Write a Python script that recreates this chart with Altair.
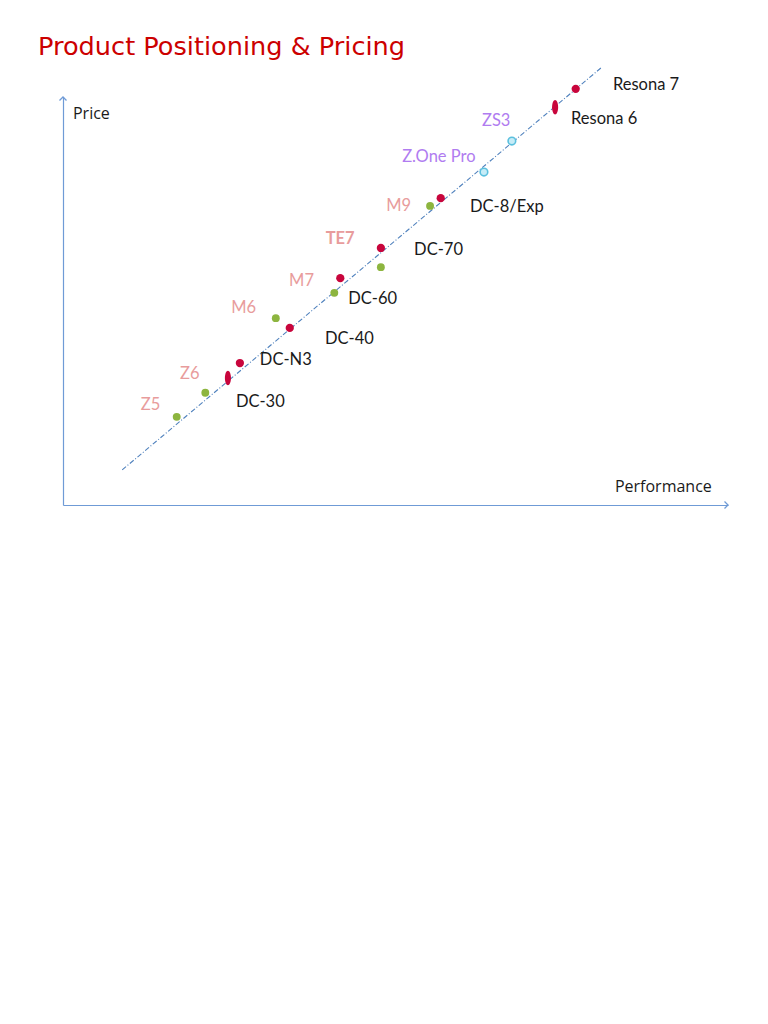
import altair as alt
import pandas as pd

# ---------------- data ----------------
chart_title = "Product Positioning & Pricing"

products = ["Resona 7", "Resona 6", "ZS3", "Z.One Pro", "DC-8/Exp", "M9", "DC-70", "TE7",
            "DC-60", "M7", "M6", "DC-40", "DC-N3", "DC-30", "Z6", "Z5"]
performance = [77.1, 74.0, 67.5, 63.3, 56.8, 55.2, 47.8, 47.8,
               41.7, 40.8, 32.0, 34.1, 26.6, 24.8, 21.4, 17.1]
price = [102.0, 97.5, 89.2, 81.6, 75.2, 73.3, 63.0, 58.3,
         55.6, 52.0, 45.8, 43.4, 34.8, 31.1, 27.5, 21.6]
family = ["cart", "cart_tall", "zonare", "zonare", "cart", "portable", "cart", "portable",
          "cart", "portable", "portable", "cart", "cart", "cart_tall", "portable", "portable"]

label_text = ["Resona 7", "Resona 6", "ZS3", "Z.One Pro", "M9", "DC-8/Exp", "TE7", "DC-70",
              "M7", "DC-60", "M6", "DC-40", "DC-N3", "Z6", "DC-30", "Z5"]
label_perf = [82.7, 76.4, 63.0, 51.0, 48.6, 61.2, 39.5, 52.8,
              34.0, 42.9, 25.3, 39.4, 29.6, 17.6, 26.0, 11.7]
label_price = [103.2, 94.9, 94.4, 85.5, 73.5, 73.3, 65.4, 62.7,
               55.1, 50.7, 48.5, 40.9, 35.8, 32.4, 25.5, 24.8]
label_group = ["dark", "dark", "zonare", "zonare", "portable", "dark", "portable", "dark",
               "portable", "dark", "portable", "dark", "dark", "portable", "dark", "portable"]
label_weight = ["normal"] * 6 + ["bold"] + ["normal"] * 9

axis_title_text = ["Price", "Performance"]
axis_title_perf = [1.5, 83.0]
axis_title_price = [96.1, 4.7]

trend_perf = [8.9, 81.1]
trend_price = [8.6, 107.4]

arrow_perf = [100, 0]
arrow_price = [0, 100]
arrow_dir = ["right", "up"]

# ---------------- tables ----------------
pts = pd.DataFrame({"product": products, "perf": performance, "price": price, "family": family})
labels = pd.DataFrame({"text": label_text, "perf": label_perf, "price": label_price,
                       "group": label_group, "weight": label_weight})
axis_titles = pd.DataFrame({"text": axis_title_text, "perf": axis_title_perf, "price": axis_title_price})
trend = pd.DataFrame({"perf": trend_perf, "price": trend_price})
arrows = pd.DataFrame({"perf": arrow_perf, "price": arrow_price, "dir": arrow_dir})

AXIS_COLOR = "#6f9bd6"


def X():
    return alt.X("perf:Q", scale=alt.Scale(domain=[0, 100], nice=False, zero=False),
                 axis=alt.Axis(domain=True, domainColor=AXIS_COLOR, domainWidth=1.2,
                               ticks=False, labels=False, grid=False), title=None)


def Y():
    return alt.Y("price:Q", scale=alt.Scale(domain=[0, 100], nice=False, zero=False),
                 axis=alt.Axis(domain=True, domainColor=AXIS_COLOR, domainWidth=1.2,
                               ticks=False, labels=False, grid=False), title=None)


ellipse_path = "M 0 -1 A 0.42 1 0 1 1 0 1 A 0.42 1 0 1 1 0 -1 Z"
chev_right = "M -1 -1 L 0 0 L -1 1"
chev_up = "M -1 1 L 0 0 L 1 1"

trend_line = alt.Chart(trend).mark_line(color="#4f81bd", strokeWidth=1.1,
                                        strokeDash=[5, 2, 1, 2]).encode(x=X(), y=Y())

arrow_r = alt.Chart(arrows).transform_filter("datum.dir == 'right'").mark_point(
    shape=chev_right, filled=False, color=AXIS_COLOR, strokeWidth=1.3, size=49, opacity=1
).encode(x=X(), y=Y())
arrow_u = alt.Chart(arrows).transform_filter("datum.dir == 'up'").mark_point(
    shape=chev_up, filled=False, color=AXIS_COLOR, strokeWidth=1.3, size=49, opacity=1
).encode(x=X(), y=Y())

red = alt.Chart(pts).transform_filter("datum.family == 'cart'").mark_point(
    shape="circle", filled=True, color="#c8053c", size=68, opacity=1
).encode(x=X(), y=Y())
red_tall = alt.Chart(pts).transform_filter("datum.family == 'cart_tall'").mark_point(
    shape=ellipse_path, filled=True, color="#c8053c", size=210, opacity=1
).encode(x=X(), y=Y())
green = alt.Chart(pts).transform_filter("datum.family == 'portable'").mark_point(
    shape="circle", filled=True, color="#8db53f", size=62, opacity=1
).encode(x=X(), y=Y())
blue = alt.Chart(pts).transform_filter("datum.family == 'zonare'").mark_point(
    shape="circle", filled=True, fill="#c6ecf7", stroke="#5bc0de", strokeWidth=1.6,
    size=58, opacity=1
).encode(x=X(), y=Y())

label_color = alt.Color("group:N", scale=alt.Scale(domain=["dark", "portable", "zonare"],
                                                   range=["#1a1a1a", "#e89c9c", "#b07cf0"]),
                        legend=None)
lab_normal = alt.Chart(labels).transform_filter("datum.weight == 'normal'").mark_text(
    align="left", baseline="middle", font="Lato", fontSize=16.5, dy=1
).encode(x=X(), y=Y(), text="text:N", color=label_color)
lab_bold = alt.Chart(labels).transform_filter("datum.weight == 'bold'").mark_text(
    align="left", baseline="middle", font="Lato", fontSize=16.5, fontWeight="bold", dy=1
).encode(x=X(), y=Y(), text="text:N", color=label_color)

ax_titles = alt.Chart(axis_titles).mark_text(
    align="left", baseline="middle", font="Open Sans", fontSize=16, color="#1a1a1a", dy=1
).encode(x=X(), y=Y(), text="text:N")

title_mark = alt.Chart(pd.DataFrame({"t": [chart_title]})).mark_text(
    align="left", baseline="alphabetic", font="DejaVu Sans", fontSize=25.6, color="#cc0000"
).encode(x=alt.value(-25), y=alt.value(-42), text="t:N")

chart = alt.layer(
    trend_line, arrow_r, arrow_u, green, red, red_tall, blue,
    lab_normal, lab_bold, ax_titles, title_mark
).properties(
    width=665, height=408,
    autosize="none",
    padding={"left": 55, "top": 89, "right": 32, "bottom": 480},
).configure_view(stroke=None)

chart.save("out.html", embed_options={"renderer": "svg", "actions": False})
